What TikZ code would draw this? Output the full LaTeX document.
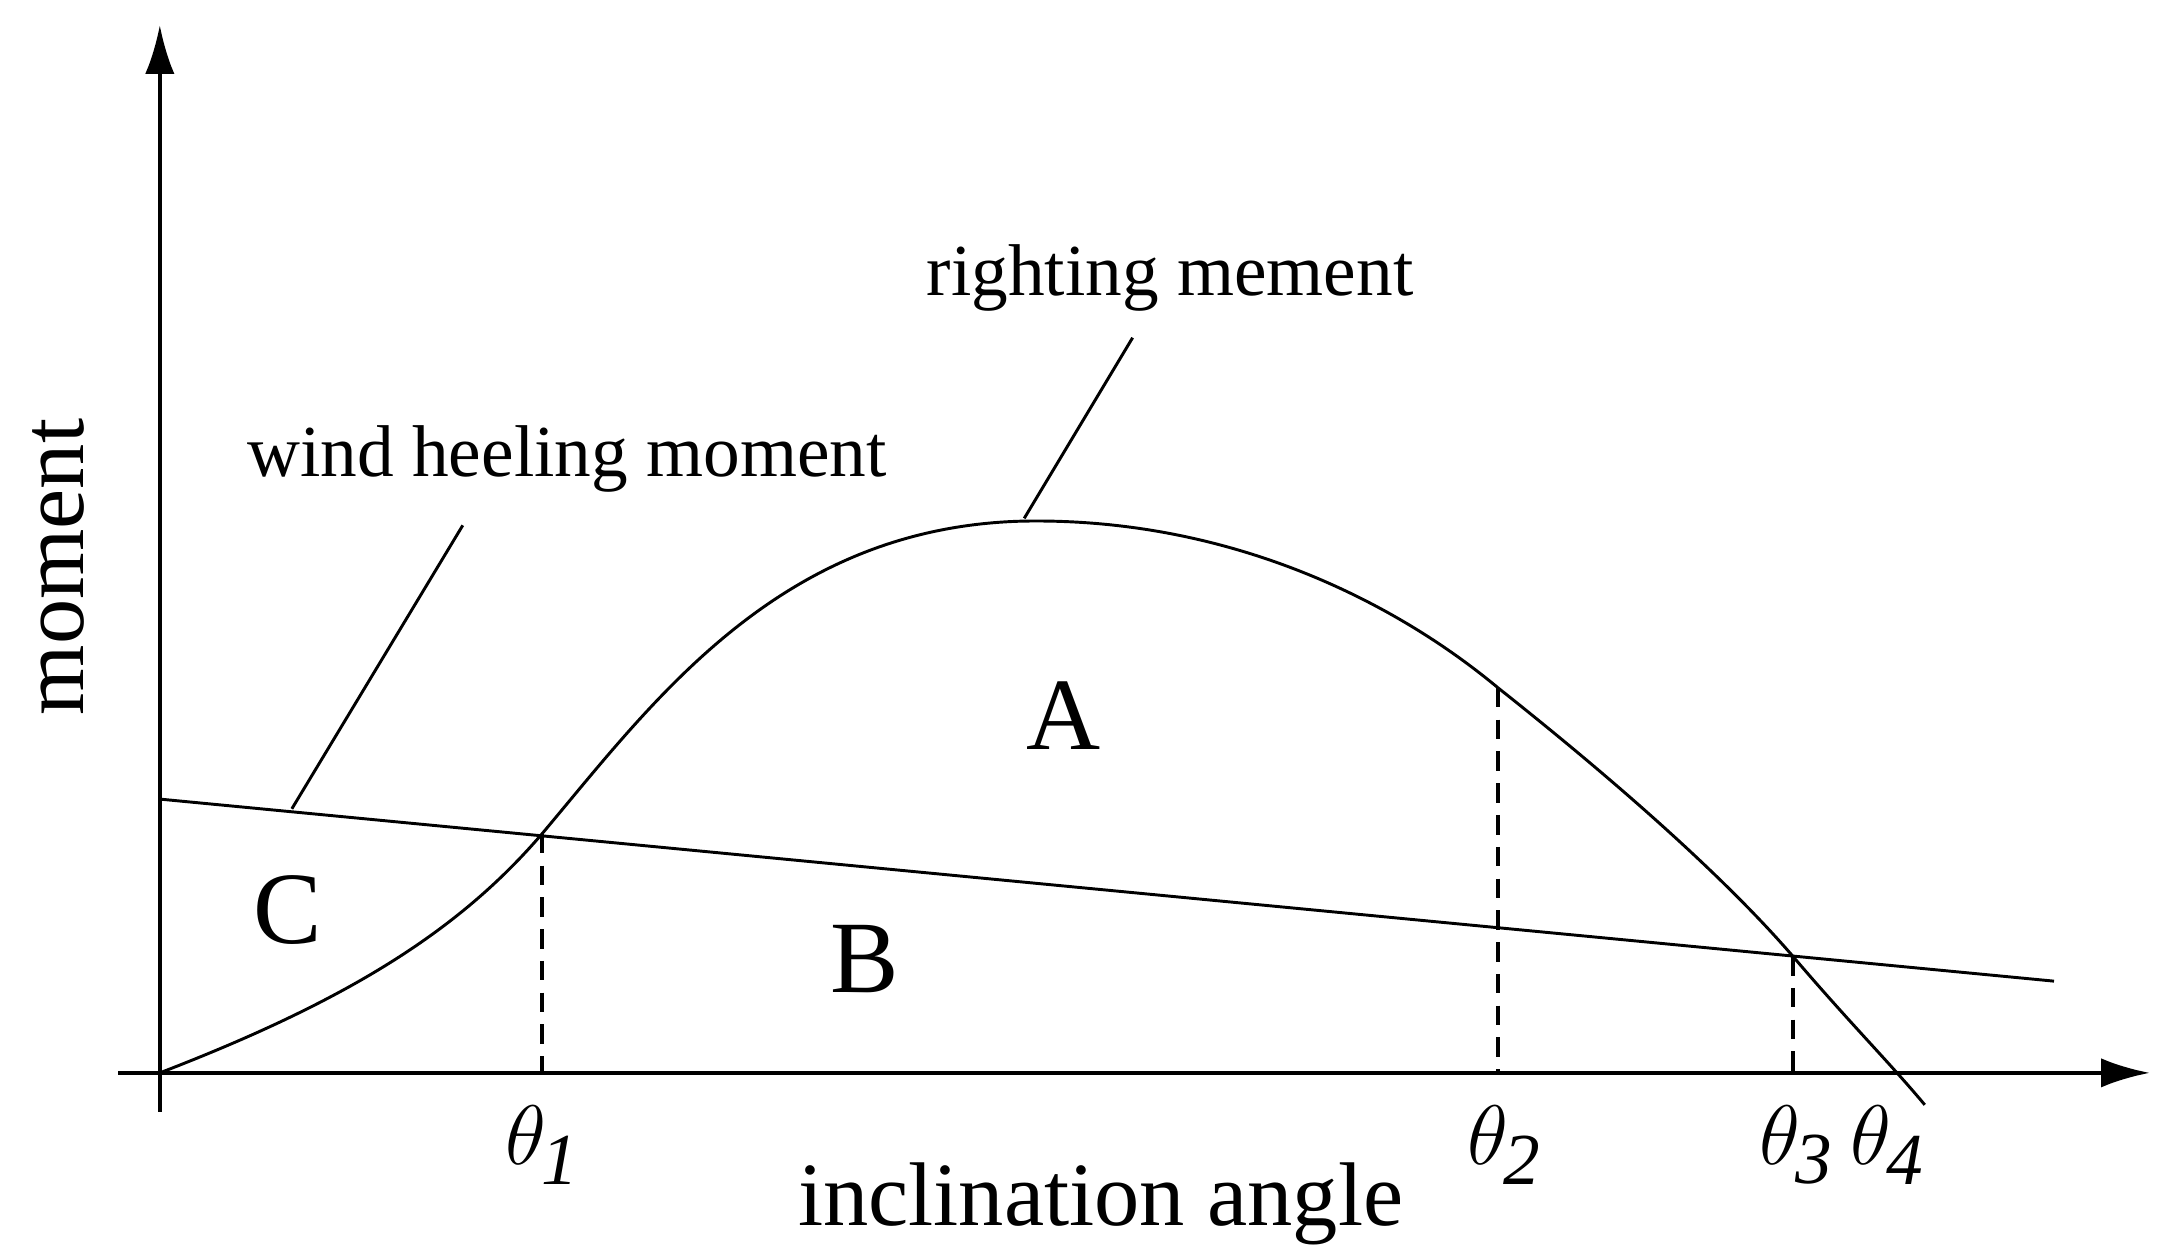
\documentclass[tikz,border=0pt]{standalone}
\usepackage{fontspec}
\setmainfont{Liberation Serif}
\usetikzlibrary{arrows.meta}
\begin{document}
\begin{tikzpicture}[x=0.01cm,y=-0.01cm,
  lbl/.style={font=\fontsize{15}{18}\selectfont,inner sep=0},
  lbll/.style={font=\fontsize{18.5}{22}\selectfont,inner sep=0},
  big/.style={font=\fontsize{21}{24}\selectfont,inner sep=0},
  th/.style={font=\fontsize{19}{22}\selectfont\itshape,inner sep=0},
  ln/.style={line width=0.6pt},
  dsh/.style={line width=0.8pt,dash pattern=on 4pt off 2.5pt},
  axis/.style={line width=0.8pt,-{Latex[length=10pt,width=6pt]}}]
\useasboundingbox (0,0) rectangle (1555,906);
\coordinate (O) at (115,772);
\coordinate (Ytop) at (115,18);
\coordinate (Xl) at (85,772);
\coordinate (Xr) at (1547,772);
\draw[axis] (115,800) -- (Ytop);
\draw[axis] (Xl) -- (Xr);
\coordinate (W0) at (115,575);
\coordinate (W1) at (1478,706);
\draw[ln] (W0) -- (W1);
\coordinate (P1) at (390,600);
\coordinate (PK) at (735,375);
\coordinate (P2) at (1078,495);
\coordinate (P3) at (1290,688);
\coordinate (E) at (1385,795);
\draw[ln] (O) .. controls (250,720) and (330,670) .. (P1)
  .. controls (470,505) and (560,380) .. (PK)
  .. controls (880,372) and (1000,430) .. (P2)
  .. controls (1160,560) and (1240,630) .. (P3)
  .. controls (1330,735) and (1360,765) .. (E);
\draw[dsh] (P1) -- (390,772);
\draw[dsh] (P2) -- (1078,772);
\draw[dsh] (P3) -- (1290,772);
\coordinate (L1a) at (210,582);
\coordinate (L1b) at (333,378);
\draw[ln] (L1a) -- (L1b);
\coordinate (L2a) at (737,373);
\coordinate (L2b) at (815,243);
\draw[ln] (L2a) -- (L2b);
\node[lbl] (wh) at (408,330) {wind heeling moment};
\node[lbl] (rm) at (842,200) {righting mement};
\node[lbll,rotate=90] (mo) at (42,408) {moment};
\node[lbll] (ia) at (792,866) {inclination angle};
\node[big] (A) at (765,515) {A};
\node[big] (B) at (622,690) {B};
\node[big] (C) at (207,655) {C};
\node[th] (t1) at (390,824) {$\theta$\kern-1pt\raisebox{-4pt}{\fontsize{15}{16}\selectfont 1}};
\node[th] (t2) at (1082,824) {$\theta$\kern-1pt\raisebox{-4pt}{\fontsize{15}{16}\selectfont 2}};
\node[th] (t3) at (1292,824) {$\theta$\kern-1pt\raisebox{-4pt}{\fontsize{15}{16}\selectfont 3}};
\node[th] (t4) at (1358,824) {$\theta$\kern-1pt\raisebox{-4pt}{\fontsize{15}{16}\selectfont 4}};
\end{tikzpicture}
\end{document}
